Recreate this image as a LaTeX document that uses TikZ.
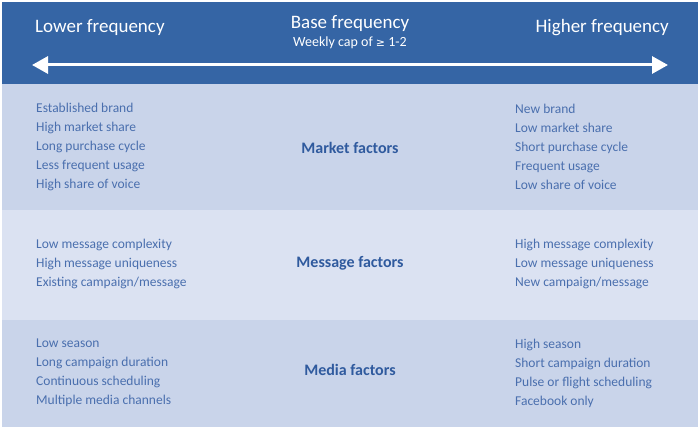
\documentclass[tikz,border=0pt]{standalone}
\usepackage{fontspec}
\setmainfont{Carlito}
\usetikzlibrary{positioning,arrows.meta}
\definecolor{fbblue}{HTML}{3565A5}
\definecolor{rowdark}{HTML}{C9D4EA}
\definecolor{rowlight}{HTML}{DBE2F2}
\definecolor{listblue}{HTML}{4A6FAE}
\definecolor{labelblue}{HTML}{2F5A9E}
\tikzset{
  head/.style={text=white, font=\fontsize{19}{22}\selectfont},
  items/.style={text=listblue, align=left, anchor=west, inner sep=0pt,
    font=\fontsize{13.5}{19}\selectfont},
  factor/.style={text=labelblue, font=\bfseries\fontsize{16}{19}\selectfont}
}
\begin{document}
\begin{tikzpicture}[x=1pt,y=-1pt]
    \useasboundingbox (0,0) rectangle (700,430);

        % Bands
    \fill[white] (0,0) rectangle (700,430);
    \fill[fbblue] (2,2) rectangle (698,84);
    \fill[rowdark] (2,84) rectangle (698,210);
    \fill[rowlight] (2,210) rectangle (698,320);
    \fill[rowdark] (2,320) rectangle (698,427);

        % Header
    \node (lower) [head, anchor=west, inner sep=0pt] at (35,28) {Lower frequency};
    \node (higher) [head, anchor=east, inner sep=0pt] at (669,28) {Higher frequency};
    \node (base) [head, inner sep=0pt] at (350,24) {Base frequency};
    \node (cap) [text=white, inner sep=0pt, font=\fontsize{14}{16}\selectfont, below=4pt of base] {Weekly cap of \fontspec{DejaVu Sans}\fontsize{11}{16}\selectfont≥\fontspec{Carlito}\fontsize{14}{16}\selectfont{} 1-2};
    \coordinate (west) at (32,65);
    \coordinate (east) at (668,65);
    \draw[white, line width=3pt, {Triangle[width=17pt,length=16pt]}-{Triangle[width=17pt,length=16pt]}] (west) -- (east);

        % Market factors
    \node (marketL) [items] at (36,147) {Established brand\\High market share\\Long purchase cycle\\Less frequent usage\\High share of voice};
    \node (market) [factor] at (350,148) {Market factors};
    \node (marketR) [items] at (515,147) {New brand\\Low market share\\Short purchase cycle\\Frequent usage\\Low share of voice};

        % Message factors
    \node (messageL) [items] at (36,264) {Low message complexity\\High message uniqueness\\Existing campaign/message};
    \node (message) [factor] at (350,263) {Message factors};
    \node (messageR) [items] at (515,264) {High message complexity\\Low message uniqueness\\New campaign/message};

        % Media factors
    \node (mediaL) [items] at (36,373) {Low season\\Long campaign duration\\Continuous scheduling\\Multiple media channels};
    \node (media) [factor] at (350,370) {Media factors};
    \node (mediaR) [items] at (515,373) {High season\\Short campaign duration\\Pulse or flight scheduling\\Facebook only};

\end{tikzpicture}
\end{document}
